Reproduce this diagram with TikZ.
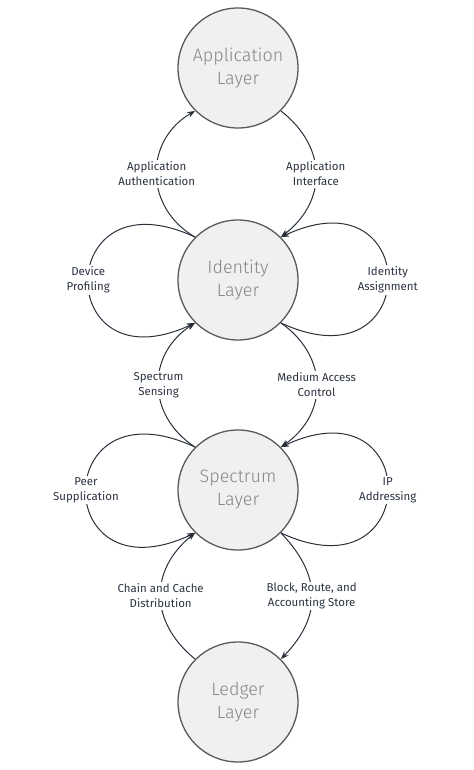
\documentclass[tikz,border=0pt]{standalone}
\usepackage{fontspec}
\setmainfont{Fira Sans}
\newfontfamily\layerfont{Fira Sans Light}
\usetikzlibrary{arrows.meta}
\definecolor{ringgray}{HTML}{5A5A5A}
\definecolor{fillgray}{HTML}{F0F0F0}
\definecolor{textgray}{HTML}{868686}
\definecolor{linkcol}{HTML}{2A303A}
\definecolor{labelcol}{HTML}{2B3340}
\begin{document}
\begin{tikzpicture}[x=1bp, y=1bp,
    layer/.style = {circle, draw = ringgray, line width = 1.3bp, fill = fillgray,
        minimum size = 120bp, inner sep = 0pt, align = center, text = textgray,
        font = \layerfont\fontsize{18}{23}\selectfont},
    flow/.style = {draw = linkcol, line width = 1bp, -{Stealth[length=8bp, width=6bp]}},
    arc/.style = {bend left = #1, looseness = 1.2},
    arc/.default = 58,
    lbl/.style = {fill = white, inner sep = 1.5bp, align = center, text = labelcol,
        font = \fontsize{11.5}{15}\selectfont}]
			\useasboundingbox (0,0) rectangle (474,-770);
			\node[layer] (app) at (238,-68) {Application\\Layer};
			\node[layer] (ident) at (238,-280) {Identity\\Layer};
			\node[layer] (spec) at (238,-490) {Spectrum\\Layer};
			\node[layer] (ledg) at (238,-702) {Ledger\\Layer};
			% between layers
			\draw [flow] (ident.135) to[arc=60] node[lbl] {Application\\Authentication} (app.225);
			\draw [flow] (app.315) to[arc=52] node[lbl] {Application\\Interface} (ident.45);
			\draw [flow] (spec.135) to[arc=57] node[lbl] {Spectrum\\Sensing} (ident.225);
			\draw [flow] (ident.315) to[arc=55] node[lbl] {Medium Access\\Control} (spec.45);
			\draw [flow] (ledg.135) to[arc=51] node[lbl] {Chain and Cache\\Distribution} (spec.225);
			\draw [flow] (spec.315) to[arc=44] node[lbl] {Block, Route, and\\Accounting Store} (ledg.45);
			% loops
			\draw [flow] (ident.135) to[out=155, in=205, looseness=4.7] node[lbl] {Device\\Profiling} (ident.225);
			\draw [flow] (ident.315) to[out=-25, in=25, looseness=4.7] node[lbl] {Identity\\Assignment} (ident.45);
			\draw [flow] (spec.135) to[out=155, in=205, looseness=4.8] node[lbl] {Peer\\Supplication} (spec.225);
			\draw [flow] (spec.315) to[out=-25, in=25, looseness=4.7] node[lbl] {IP\\Addressing} (spec.45);
\end{tikzpicture}
\end{document}
